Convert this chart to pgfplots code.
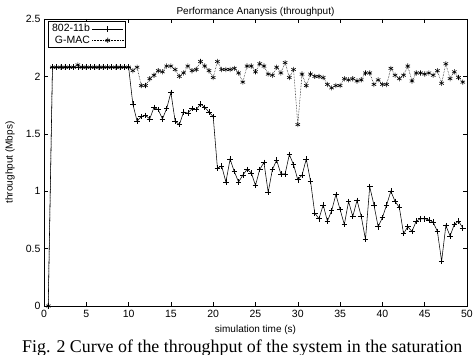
\documentclass[border=0pt]{standalone}
\usepackage{pgfplots}
\pgfplotsset{compat=1.18}
\usepackage{fontspec}
\setmainfont{Liberation Sans}
\newfontfamily\capfont{Liberation Serif}
\begin{document}
\begin{tikzpicture}
\path[use as bounding box] (0,0) rectangle (474pt,355pt);
\begin{axis}[
  at={(44pt,49pt)}, anchor=south west,
  scale only axis, width=423pt, height=287pt,
  xmin=0, xmax=50, ymin=0, ymax=2.5,
  xtick={0,5,...,50}, ytick={0,0.5,1,1.5,2,2.5},
  /pgf/number format/assume math mode=true,
  tick label style={font=\fontsize{10.5}{12}\selectfont},
  tick align=inside, major tick length=4pt,
  every tick/.style={black, line width=0.5pt},
  axis line style={line width=0.8pt},
  xticklabel style={yshift=-1pt},
  xlabel={simulation time (s)},
  xlabel style={font=\fontsize{10}{12}\selectfont, at={(axis description cs:0.5,-0.084)}, anchor=center, inner sep=0pt},
  ylabel={throughput (Mbps)},
  ylabel style={font=\fontsize{10}{12}\selectfont, at={(axis description cs:-0.08,0.5)}, anchor=center, inner sep=0pt},
  legend style={at={(axis description cs:0.009,0.993)}, anchor=north west, draw=black, line width=0.6pt,
    font=\fontsize{10.5}{10.5}\selectfont, inner xsep=2pt, inner ysep=1pt, row sep=-1.5pt, fill=white},
  legend plot pos=right, legend cell align=right,
  legend image code/.code={\draw[mark repeat=2,mark phase=2,#1] plot coordinates {(0cm,0cm) (0.55cm,0cm) (1.1cm,0cm)};},
]
\addplot[black, line width=0.55pt, mark=+, mark size=2.8pt, mark options={solid, line width=0.6pt}] coordinates {
(0.5,0)(1,2.08)(1.5,2.08)(2,2.08)(2.5,2.08)(3,2.08)(3.5,2.08)(4,2.08)(4.5,2.08)(5,2.08)(5.5,2.08)(6,2.08)(6.5,2.08)(7,2.08)(7.5,2.08)(8,2.08)(8.5,2.08)(9,2.08)(9.5,2.08)(10,2.08)
(10.5,1.76)(11,1.61)(11.5,1.65)(12,1.66)(12.5,1.63)(13,1.73)(13.5,1.71)(14,1.63)(14.5,1.72)(15,1.86)(15.5,1.61)(16,1.58)(16.5,1.69)(17,1.68)(17.5,1.72)(18,1.71)(18.5,1.76)(19,1.73)(19.5,1.69)(20,1.65)
(20.5,1.20)(21,1.22)(21.5,1.08)(22,1.28)(22.5,1.17)(23,1.08)(23.5,1.14)(24,1.19)(24.5,1.16)(25,1.05)(25.5,1.19)(26,1.25)(26.5,0.99)(27,1.19)(27.5,1.27)(28,1.15)(28.5,1.15)(29,1.32)(29.5,1.23)(30,1.10)
(30.5,1.14)(31,1.28)(31.5,1.09)(32,0.81)(32.5,0.76)(33,0.88)(33.5,0.74)(34,0.83)(34.5,0.97)(35,0.84)(35.5,0.71)(36,0.91)(36.5,0.78)(37,0.92)(37.5,0.78)(38,0.58)(38.5,1.04)(39,0.88)(39.5,0.69)(40,0.77)
(40.5,0.88)(41,1.00)(41.5,0.91)(42,0.86)(42.5,0.63)(43,0.69)(43.5,0.65)(44,0.74)(44.5,0.76)(45,0.76)(45.5,0.75)(46,0.73)(46.5,0.65)(47,0.39)(47.5,0.70)(48,0.61)(48.5,0.71)(49,0.74)(49.5,0.68)
};
\addlegendentry{802-11b}
\addplot[black, line width=0.55pt, densely dotted, mark=asterisk, mark size=2.6pt, mark options={solid, line width=0.6pt}] coordinates {
(0.5,0)(1,2.08)(1.5,2.08)(2,2.08)(2.5,2.08)(3,2.08)(3.5,2.08)(4,2.10)(4.5,2.08)(5,2.08)(5.5,2.08)(6,2.08)(6.5,2.08)(7,2.08)(7.5,2.08)(8,2.08)(8.5,2.08)(9,2.08)(9.5,2.08)(10,2.08)
(10.5,2.05)(11,2.08)(11.5,1.92)(12,1.92)(12.5,1.98)(13,2.01)(13.5,2.05)(14,2.04)(14.5,2.09)(15,2.09)(15.5,2.06)(16,2.00)(16.5,2.03)(17,2.09)(17.5,2.05)(18,2.06)(18.5,2.13)(19,2.09)(19.5,2.05)(20,1.99)
(20.5,2.13)(21,2.06)(21.5,2.06)(22,2.06)(22.5,2.07)(23,2.03)(23.5,1.95)(24,2.09)(24.5,2.09)(25,2.04)(25.5,2.11)(26,2.09)(26.5,2.02)(27,2.01)(27.5,2.08)(28,2.03)(28.5,2.12)(29,1.99)(29.5,2.06)(30,1.58)
(30.5,2.02)(31,1.92)(31.5,2.02)(32,2.00)(32.5,2.00)(33,1.99)(33.5,1.93)(34,1.90)(34.5,1.92)(35,1.92)(35.5,1.98)(36,1.97)(36.5,1.98)(37,1.96)(37.5,1.97)(38,2.03)(38.5,2.03)(39,1.93)(39.5,1.97)(40,1.93)
(40.5,1.93)(41,2.07)(41.5,2.01)(42,1.98)(42.5,2.01)(43,2.09)(43.5,1.96)(44,2.03)(44.5,2.03)(45,2.02)(45.5,2.03)(46,2.01)(46.5,2.05)(47,1.94)(47.5,2.11)(48,1.98)(48.5,2.04)(49,1.99)(49.5,1.95)
};
\addlegendentry{G-MAC}
\end{axis}
\node[anchor=center, inner sep=0pt, font=\fontsize{10}{12}\selectfont] at (255.5pt,343.5pt) {Performance Ananysis (throughput)};
\node[anchor=base west, inner sep=0pt] at (22pt,2.5pt) {\resizebox{440pt}{!}{\capfont Fig. 2 Curve of the throughput of the system in the saturation}};
\end{tikzpicture}
\end{document}
